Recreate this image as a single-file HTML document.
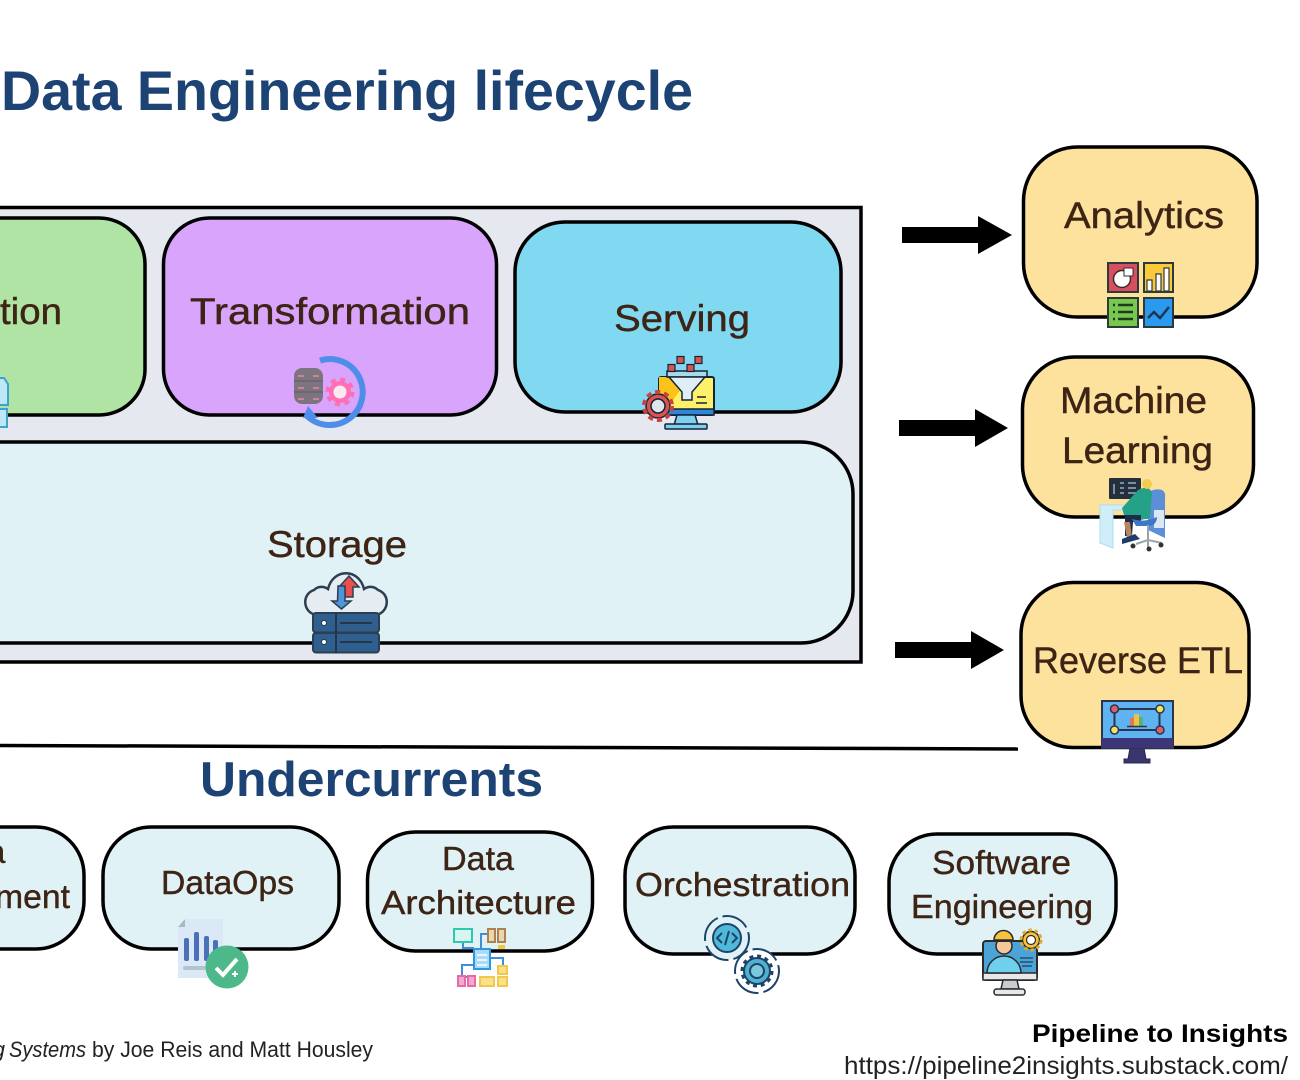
<!DOCTYPE html>
<html><head><meta charset="utf-8"><style>
html,body{margin:0;padding:0;background:#fff;width:1300px;height:1080px;overflow:hidden}
svg{display:block}
text{font-family:"Liberation Sans","DejaVu Sans",sans-serif;fill:#3d2415}
.l{font-size:37px;stroke:#3d2415;stroke-width:.45px}
.m{font-size:33px;stroke:#3d2415;stroke-width:.4px}
</style></head><body>
<svg width="1300" height="1080" viewBox="0 0 1300 1080" xmlns="http://www.w3.org/2000/svg">
<rect width="1300" height="1080" fill="#fff"/>
<text x="1" y="110" font-size="56" font-weight="700" style="fill:#1c4373" textLength="692" lengthAdjust="spacingAndGlyphs">Data Engineering lifecycle</text>

<rect x="-20" y="207.500" width="881" height="454.500" fill="#e5e8ee" stroke="#000" stroke-width="3.500"/>
<rect x="-120" y="218" width="265" height="197" rx="46" fill="#afe4a5" stroke="#000" stroke-width="3.500"/>
<rect x="163.500" y="218" width="333" height="197" rx="46" fill="#d9a4fc" stroke="#000" stroke-width="3.500"/>
<rect x="515" y="222" width="326" height="190" rx="50" fill="#80d9f1" stroke="#000" stroke-width="3.500"/>
<rect x="-60" y="442" width="913" height="201" rx="52" fill="#e0f2f6" stroke="#000" stroke-width="3.500"/>

<text class="l" x="0" y="324" textLength="62" lengthAdjust="spacingAndGlyphs">tion</text>
<text class="l" x="190" y="324" textLength="280" lengthAdjust="spacingAndGlyphs">Transformation</text>
<text class="l" x="614" y="331" textLength="136" lengthAdjust="spacingAndGlyphs">Serving</text>
<text class="l" x="267" y="557" textLength="140" lengthAdjust="spacingAndGlyphs">Storage</text>

<!-- ingestion icon -->
<path d="M-4 378h8l4 6v21h-12z" fill="#bde6f7" stroke="#3aa5c9" stroke-width="2"/>
<rect x="-4" y="409" width="11" height="18" fill="#bde6f7" stroke="#3aa5c9" stroke-width="2"/>

<!-- transformation icon -->
<path d="M320 360.500A33 33 0 1 1 307 416" fill="none" stroke="#4f8ee8" stroke-width="6"/>
<path d="M303 418l5-12 10 12z" fill="#4f8ee8"/>
<rect x="294" y="368" width="29" height="36" rx="8" fill="#7d7480"/>
<path d="M294 381h29M294 392h29" stroke="#6a6270" stroke-width="1.500"/>
<path d="M298 376h6M313 376h6M298 388h6M313 388h6M298 399h6M313 399h6" stroke="#e58aa0" stroke-width="1.500"/>
<circle cx="340" cy="392" r="11" fill="#ff6fb5"/>
<circle cx="340" cy="392" r="12.500" fill="none" stroke="#ff6fb5" stroke-width="4" stroke-dasharray="5 4.800"/>
<circle cx="340" cy="392" r="6.500" fill="#fbe9f2"/>

<!-- serving icon -->
<rect x="659" y="377" width="55" height="38" rx="2" fill="#fff06a" stroke="#14233c" stroke-width="2"/>
<path d="M659 377h12l10 12-10 14h-12z" fill="#fcc419"/>
<rect x="659" y="409" width="55" height="6" fill="#2f86d8" stroke="#14233c" stroke-width="1.500"/>
<path d="M677 415h18l3 10h-24z" fill="#7fd0ec" stroke="#14233c" stroke-width="1.500"/>
<rect x="665" y="424" width="42" height="5" rx="1" fill="#7fd0ec" stroke="#14233c" stroke-width="1.500"/>
<rect x="667" y="371" width="40" height="6" fill="#a9dbe6" stroke="#14233c" stroke-width="1.500"/>
<path d="M669 377h36l-13 15v8h-10v-8z" fill="#dfeef2" stroke="#14233c" stroke-width="1.500"/>
<path d="M697 397h9M696 403h11" stroke="#14233c" stroke-width="1.500"/>
<g fill="#d9534f" stroke="#14233c" stroke-width="1.200"><rect x="677" y="356.500" width="7" height="7"/><rect x="695" y="356.500" width="7" height="7"/><rect x="668" y="364.500" width="7" height="7"/><rect x="687" y="364.500" width="7" height="7"/></g>
<circle cx="658" cy="406" r="12" fill="#d9534f" stroke="#14233c" stroke-width="1.500"/>
<circle cx="658" cy="406" r="14" fill="none" stroke="#c9423f" stroke-width="4" stroke-dasharray="5 4"/>
<circle cx="658" cy="406" r="7" fill="#dfe6ea" stroke="#14233c" stroke-width="1.500"/>

<!-- storage icon -->
<path d="M313 614C303 610 302 594 314 590C318 586 324 586 328 589C333 568 359 568 364 589C368 586 374 586 378 590C390 594 389 610 379 614z" fill="#e5edf3" stroke="#2c3e50" stroke-width="2.500"/>
<path d="M345 597v-10h-6l10-11 10 11h-6v10z" fill="#ea4f4f" stroke="#2c3e50" stroke-width="1.500"/>
<path d="M338 586h7v15h6l-9.500 8-9.500-8h5.500z" fill="#4f96d8" stroke="#2c3e50" stroke-width="1.500"/>
<rect x="313" y="613" width="66" height="19.500" rx="3" fill="#2f5f8f" stroke="#2c3e50" stroke-width="2"/>
<rect x="313" y="633" width="66" height="19.500" rx="3" fill="#2f5f8f" stroke="#2c3e50" stroke-width="2"/>
<path d="M336 613v40M340 623h32M340 642h32" stroke="#26364a" stroke-width="2"/>
<circle cx="324" cy="623" r="2.500" fill="#fff" stroke="#26364a"/><circle cx="324" cy="642" r="2.500" fill="#fff" stroke="#26364a"/>

<!-- arrows -->
<path d="M902 227h76v-11l34 19-34 19v-11h-76z" fill="#000"/>
<path d="M899 420h76v-11l33 19-33 19v-11h-76z" fill="#000"/>
<path d="M895 642h76v-11l33 19-33 19v-11h-76z" fill="#000"/>

<!-- outputs -->
<rect x="1023.500" y="147" width="233.500" height="170" rx="54" fill="#fde29d" stroke="#000" stroke-width="3.500"/>
<rect x="1022.500" y="357" width="231" height="160" rx="52" fill="#fde29d" stroke="#000" stroke-width="3.500"/>
<rect x="1021" y="582.500" width="228" height="165" rx="52" fill="#fde29d" stroke="#000" stroke-width="3.500"/>
<text class="l" x="1064" y="228" textLength="160" lengthAdjust="spacingAndGlyphs">Analytics</text>
<text class="l" x="1060" y="413" textLength="147" lengthAdjust="spacingAndGlyphs">Machine</text>
<text class="l" x="1062" y="463" textLength="151" lengthAdjust="spacingAndGlyphs">Learning</text>
<text class="l" x="1033" y="673" textLength="210" lengthAdjust="spacingAndGlyphs">Reverse ETL</text>

<!-- analytics icon -->
<rect x="1108" y="263" width="30" height="29" fill="#d94f62" stroke="#2d3a3a" stroke-width="2"/>
<circle cx="1122" cy="279" r="8.500" fill="#fff" stroke="#3a2a2a" stroke-width="1.500"/>
<path d="M1124 268h9v8h-9z" fill="#fff" stroke="#3a2a2a"/>
<rect x="1144" y="263" width="29" height="29" fill="#fcc93a" stroke="#2d3a3a" stroke-width="2"/>
<path d="M1147 280h5v11h-5zM1156 274h5v17h-5zM1164 268h5v23h-5z" fill="#fff" stroke="#2d3a3a" stroke-width="1.200"/>
<rect x="1108" y="298" width="30" height="29" fill="#78c850" stroke="#2d3a3a" stroke-width="2"/>
<path d="M1118 305h15M1118 312h15M1118 319h15M1113 305h2M1113 312h2M1113 319h2" stroke="#1f3a1f" stroke-width="2.500"/>
<rect x="1144" y="298" width="29" height="29" fill="#2a9af0" stroke="#2d3a3a" stroke-width="2"/>
<path d="M1148 318l6-6 6 6 9-11" fill="none" stroke="#1c3550" stroke-width="2.500"/>

<!-- ML icon -->
<rect x="1109" y="478" width="32" height="21" rx="1" fill="#26303c"/>
<path d="M1114 484v10M1120 483h4M1120 488h4M1120 493h4M1128 483h8M1128 488h8M1128 493h8" stroke="#8fb0c8" stroke-width="1.500"/>
<path d="M1100 505h32v5h-19v38l-13-5z" fill="#cfeefa" stroke="#b0dcee"/>
<path d="M1148 492q8-4 14-2q4 2 3 8v40l-17-8z" fill="#5b8fd8"/>
<path d="M1154 510h10v18h-10z" fill="#dce8f0"/>
<path d="M1122 508l16-18q12-6 14 4l-2 24-14 3-12-6z" fill="#24a187"/>
<circle cx="1147" cy="484" r="5" fill="#f1cc50"/>
<path d="M1125 515h16v7h-8l-1 14h-7z" fill="#1e2c48"/>
<path d="M1124 522h6l2 16h-5z" fill="#b88560"/>
<path d="M1132 519q12 4 25-2q0 7-7 9h-14z" fill="#3f76c8"/>
<path d="M1122 539l13-5 5 5-18 5z" fill="#1e3c6c"/>
<path d="M1148 525v22M1136 544l12-4 14 3" stroke="#9aa3ac" stroke-width="2" fill="none"/>
<circle cx="1133" cy="546" r="2.500" fill="#333"/><circle cx="1149" cy="549" r="2.500" fill="#333"/><circle cx="1161" cy="545" r="2.500" fill="#333"/>

<!-- reverse ETL icon -->
<path d="M1130 748h14l2 11h4v4h-26v-4h4z" fill="#39356e" stroke="#2a2a4a"/>
<rect x="1102" y="701" width="71" height="47" fill="#5fb3f0" stroke="#2c3550" stroke-width="2"/>
<rect x="1102" y="738" width="71" height="10" fill="#3e3578"/>
<rect x="1114.500" y="709" width="45" height="21" fill="none" stroke="#2c3550" stroke-width="2"/>
<circle cx="1114.500" cy="709" r="4" fill="#d9606a" stroke="#2c3550" stroke-width="1.500"/>
<circle cx="1160" cy="709" r="4" fill="#f3e35a" stroke="#2c3550" stroke-width="1.500"/>
<circle cx="1114.500" cy="730" r="4" fill="#f3e35a" stroke="#2c3550" stroke-width="1.500"/>
<circle cx="1160" cy="730" r="4" fill="#d9606a" stroke="#2c3550" stroke-width="1.500"/>
<rect x="1130" y="718" width="4" height="8" fill="#e07a4a"/><rect x="1134" y="714" width="5" height="12" fill="#e8c54a"/><rect x="1139" y="717" width="4" height="9" fill="#5fb070"/>
<path d="M1127 726.500h20" stroke="#2c3550" stroke-width="1.500"/>

<!-- divider -->
<path d="M0 745.500L1018 749" stroke="#000" stroke-width="3.500"/>
<text x="200" y="796" font-size="49" font-weight="700" style="fill:#1c4373" textLength="343" lengthAdjust="spacingAndGlyphs">Undercurrents</text>

<!-- undercurrent boxes -->
<g fill="#e0f2f6" stroke="#000" stroke-width="3.500">
<rect x="-150" y="827" width="234" height="122" rx="48"/>
<rect x="103" y="827" width="236" height="122" rx="48"/>
<rect x="367.500" y="832" width="225" height="119" rx="48"/>
<rect x="625" y="827" width="230" height="127" rx="48"/>
<rect x="889" y="834" width="227" height="120" rx="48"/>
</g>
<g>
<text class="m" x="-13" y="863">a</text>
<text class="m" x="-5" y="908" textLength="75" lengthAdjust="spacingAndGlyphs">ment</text>
<text class="m" x="161" y="894" textLength="133" lengthAdjust="spacingAndGlyphs">DataOps</text>
<text class="m" x="442" y="870" textLength="72" lengthAdjust="spacingAndGlyphs">Data</text>
<text class="m" x="381" y="914" textLength="195" lengthAdjust="spacingAndGlyphs">Architecture</text>
<text class="m" x="635" y="896" textLength="215" lengthAdjust="spacingAndGlyphs">Orchestration</text>
<text class="m" x="932" y="874" textLength="139" lengthAdjust="spacingAndGlyphs">Software</text>
<text class="m" x="911" y="918" textLength="182" lengthAdjust="spacingAndGlyphs">Engineering</text>
</g>

<!-- DataOps icon -->
<path d="M186 919h37v59h-45v-51z" fill="#dbe8f5"/>
<path d="M178 927l7-8v8z" fill="#aab8c4"/>
<g fill="#4a70b8"><rect x="184" y="938" width="5" height="23" rx="2"/><rect x="194" y="932" width="5" height="29" rx="2"/><rect x="204" y="936" width="5" height="25" rx="2"/><rect x="213" y="940" width="5" height="20" rx="2"/></g>
<rect x="183" y="966" width="26" height="4" rx="2" fill="#b3c3cf"/>
<circle cx="227" cy="967" r="21.500" fill="#4db88a"/>
<path d="M216 968l7 7 14-16" fill="none" stroke="#fff" stroke-width="4"/>
<path d="M235 971v6M232 974h6" stroke="#fff" stroke-width="2"/>

<!-- Data architecture icon -->
<path d="M463 942v6h11M481 948v-14h6M490 958h13v8M468 985v-8h-6v-12h11" fill="none" stroke="#3f8fd8" stroke-width="2"/>
<rect x="454" y="929" width="18" height="13" fill="#d8f6ee" stroke="#2cc9b0" stroke-width="2"/>
<rect x="488" y="929" width="7" height="13" fill="#e8d8b0" stroke="#b08050" stroke-width="2"/>
<rect x="498" y="929" width="7" height="13" fill="#e8d8b0" stroke="#b08050" stroke-width="2"/>
<rect x="498" y="945" width="7" height="4" fill="#f3c93a"/>
<rect x="474" y="949" width="16" height="20" fill="#a8dcf8" stroke="#2f96e0" stroke-width="2"/>
<path d="M477 955h10M477 960h10M477 965h10" stroke="#fff" stroke-width="1.500"/>
<rect x="458" y="976" width="7" height="10" fill="#f3a8d0" stroke="#e868a8" stroke-width="2"/>
<rect x="468" y="976" width="7" height="10" fill="#f3a8d0" stroke="#e868a8" stroke-width="2"/>
<rect x="480" y="977" width="14" height="9" fill="#fbe08a" stroke="#f3c84a" stroke-width="2"/>
<rect x="498" y="966" width="9" height="8" fill="#fbe08a" stroke="#f3c84a" stroke-width="2"/>
<rect x="498" y="977" width="9" height="9" fill="#fbe08a" stroke="#f3c84a" stroke-width="2"/>

<!-- Orchestration icon -->
<circle cx="727" cy="938" r="22" fill="#e0f2f6" stroke="#1d4468" stroke-width="2" stroke-dasharray="28 5"/>
<circle cx="727" cy="938" r="14" fill="#4fb9d9" stroke="#1d4468" stroke-width="2"/>
<path d="M722 933l-5 5 5 5M732 933l5 5-5 5M729 931l-4 14" fill="none" stroke="#1d4468" stroke-width="2"/>
<circle cx="757" cy="971" r="22" fill="#fff" stroke="#1d4468" stroke-width="2" stroke-dasharray="28 5"/>
<circle cx="757" cy="971" r="13" fill="#4fb0d0" stroke="#1d4468" stroke-width="2"/>
<circle cx="757" cy="971" r="15" fill="none" stroke="#1d4468" stroke-width="3" stroke-dasharray="4 3.850"/>
<circle cx="757" cy="971" r="7" fill="#7cc8dc" stroke="#1d4468" stroke-width="2"/>

<!-- Software icon -->
<rect x="983" y="941" width="54" height="39" rx="3" fill="#4ba3d6" stroke="#2a2a2a" stroke-width="2"/>
<rect x="983" y="973" width="54" height="7" fill="#e6e8ea" stroke="#2a2a2a" stroke-width="1.500"/>
<path d="M1003 980h14l2 9h-18z" fill="#c8cdd2" stroke="#2a2a2a" stroke-width="1.500"/>
<rect x="994" y="989" width="31" height="6" rx="2.500" fill="#e6e8ea" stroke="#2a2a2a" stroke-width="1.500"/>
<path d="M987 973a17 17 0 0 1 34 0z" fill="#6fd0ee" stroke="#2a2a2a" stroke-width="1.500"/>
<circle cx="1004" cy="946" r="8" fill="#f4c89a" stroke="#2a2a2a" stroke-width="1.500"/>
<path d="M994 940a9.500 9.500 0 0 1 19 0z" fill="#f7c23f" stroke="#2a2a2a" stroke-width="1.500"/>
<path d="M992 941h23" stroke="#2a2a2a" stroke-width="2"/>
<path d="M1020 958h13M1020 962h13M1022 966h10" stroke="#26506e" stroke-width="1.500"/>
<circle cx="1031" cy="940" r="8.500" fill="#f7c23f" stroke="#2a2a2a" stroke-width="1.500"/>
<circle cx="1031" cy="940" r="10" fill="none" stroke="#e0a92c" stroke-width="3" stroke-dasharray="3.500 2.800"/>
<circle cx="1031" cy="940" r="4.500" fill="#fff" stroke="#2a2a2a" stroke-width="1.200"/>

<!-- footer -->
<text x="5" y="1057" font-size="22" text-anchor="end" style="fill:#222" font-style="italic">g</text>
<text x="9" y="1057" font-size="22" font-style="italic" style="fill:#222" textLength="77" lengthAdjust="spacingAndGlyphs">Systems</text>
<text x="92" y="1057" font-size="22" style="fill:#222" textLength="281" lengthAdjust="spacingAndGlyphs">by Joe Reis and Matt Housley</text>
<text x="1032" y="1042" font-size="25" font-weight="700" style="fill:#000" textLength="256" lengthAdjust="spacingAndGlyphs">Pipeline to Insights</text>
<text x="844" y="1074" font-size="25" style="fill:#222" textLength="444" lengthAdjust="spacingAndGlyphs">https://pipeline2insights.substack.com/</text>
</svg>
</body></html>
